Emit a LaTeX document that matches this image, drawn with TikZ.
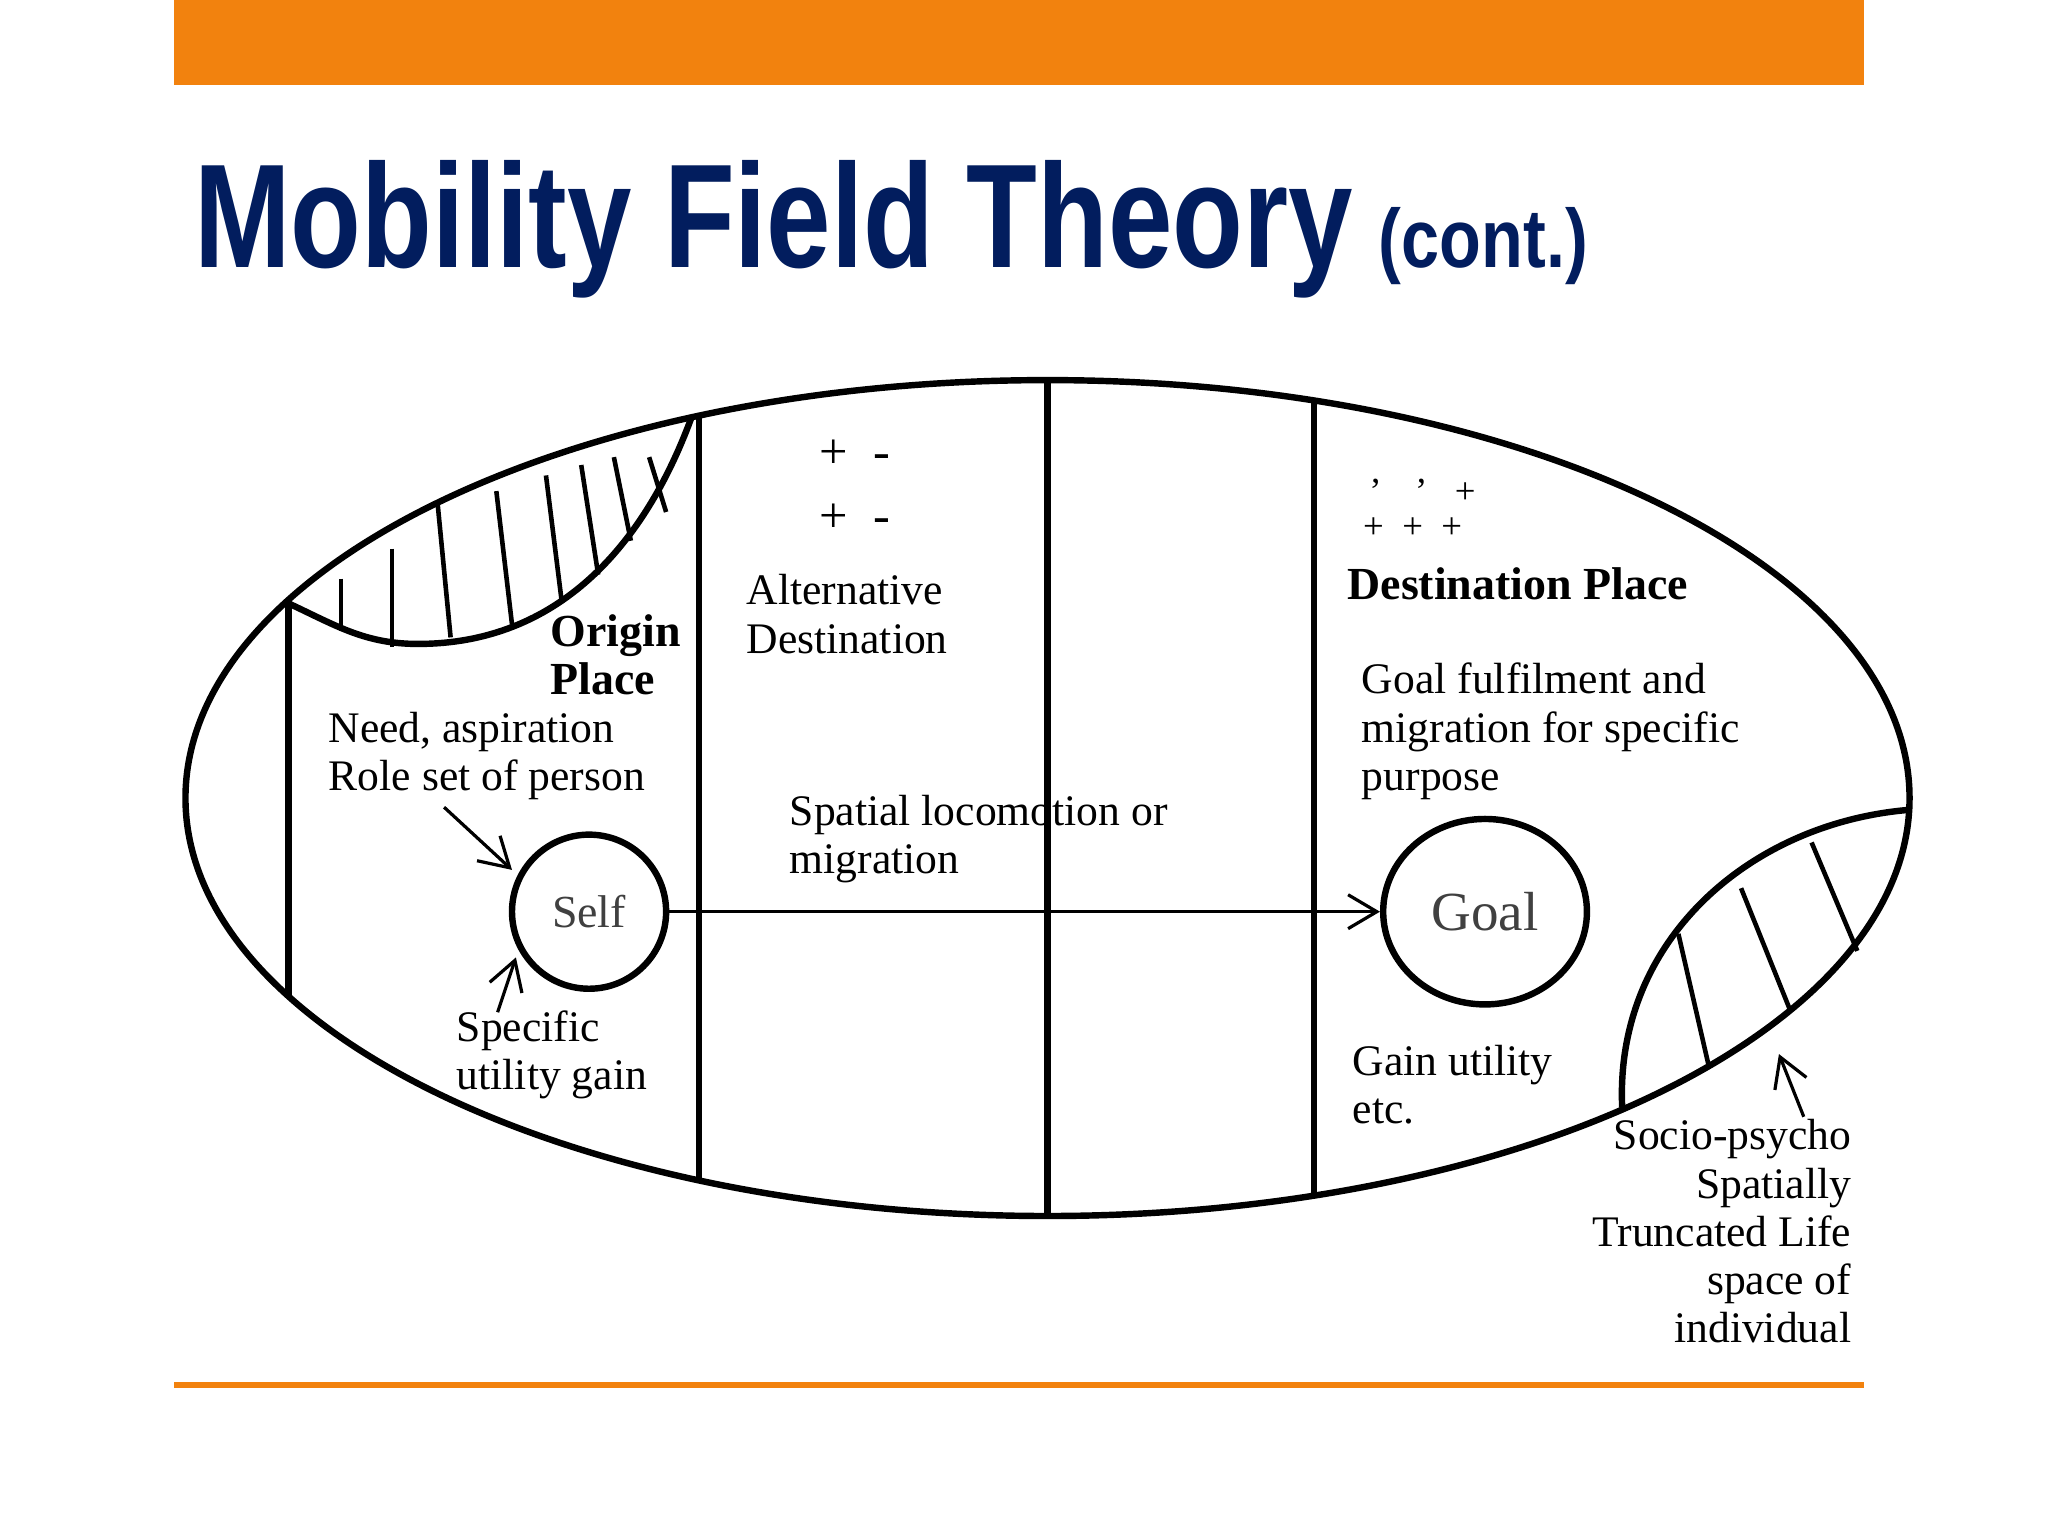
\documentclass[tikz,border=0pt]{standalone}
\usepackage{fontspec}
\setmainfont{Liberation Serif}
\newfontfamily\titlefont{Liberation Sans}
\usetikzlibrary{arrows.meta,shapes.geometric}
\definecolor{navy}{RGB}{2,29,94}
\definecolor{bar}{RGB}{242,130,14}
\begin{document}
\begin{tikzpicture}[x=0.1mm,y=-0.1mm,
  thick line/.style={line width=1.4pt},
  hatch/.style={line width=1pt},
  lbl/.style={anchor=base west,align=left,inner sep=0,font=\fontsize{9.5}{10.5}\selectfont},
  thin arrow/.style={line width=0.7pt,-{Straight Barb[length=2.2mm,width=2.6mm]}}]
\useasboundingbox[fill=white] (0,0) rectangle (1568,1176);
\fill[bar] (133,0) rectangle (1427,65);
\fill[bar] (133,1058) rectangle (1427,1063);
\node[anchor=base west,inner sep=0,text=navy] (title) at (148,205)
  {\resizebox{88.7mm}{8.2mm}{\titlefont\bfseries Mobility Field Theory}};
\node[anchor=base west,inner sep=0,text=navy] (cont) at (1055,205)
  {\resizebox{16mm}{4.6mm}{\titlefont\bfseries (cont.)}};
% ellipse
\coordinate (C) at (802,611);
\begin{scope}
\clip (C) ellipse [x radius=660, y radius=320];
\draw[thick line] (221,300) -- (221,950);
\draw[thick line] (535,250) -- (535,950);
\draw[thick line] (802,250) -- (802,950);
\draw[thick line] (1006,250) -- (1006,950);
\draw[thick line] (221,462) to[out=-25,in=180] (320,493) to[out=0,in=-110] (530,318);
\draw[thick line] (1242,848) .. controls (1236,720) and (1340,630) .. (1462,620);
\end{scope}
\draw[thick line] (C) ellipse [x radius=660, y radius=320];
% hatches top-left
\foreach \a/\b/\c/\d in {261/443/261/483, 300/420/300/495, 335/385/345/488, 380/376/392/478, 418/364/430/460, 445/356/458/440, 470/350/483/414, 497/350/510/392}
  \draw[hatch] (\a,\b) -- (\c,\d);
% hatches bottom-right
\foreach \a/\b/\c/\d in {1285/715/1308/815, 1333/680/1370/772, 1387/645/1422/728}
  \draw[hatch] (\a,\b) -- (\c,\d);
% circles
\node[draw,line width=1.4pt,circle,minimum size=11.8mm,inner sep=0,text=black!75,font=\fontsize{10}{10}\selectfont] (self) at (451,698) {Self};
\node[draw,line width=1.4pt,ellipse,minimum width=15.6mm,minimum height=14.2mm,inner sep=0,text=black!75,font=\fontsize{12}{12}\selectfont] (goal) at (1137,698) {Goal};
\draw[thin arrow] (self) -- (goal);
\coordinate (n1) at (340,618);
\draw[thin arrow] (n1) -- (392,666);
\coordinate (n2) at (381,775);
\draw[thin arrow] (n2) -- (395,733);
\coordinate (n3) at (1381,855);
\draw[thin arrow] (n3) -- (1362,807);
% labels
\node[lbl,font=\fontsize{10}{10.5}\selectfont\bfseries] (origin) at (421,532) {Origin\\Place};
\node[lbl] (need) at (251,605) {Need, aspiration\\Role set of person};
\node[lbl] (spec) at (349,834) {Specific\\utility gain};
\node[lbl,font=\fontsize{11}{14}\selectfont] (pm) at (627,408) {+ \ -\\+ \ -};
\node[lbl] (alt) at (571,500) {Alternative\\Destination};
\node[lbl] (spat) at (604,669) {Spatial locomotion or\\migration};
\node[lbl,font=\fontsize{8}{7.5}\selectfont] (pm2) at (1043,412) {\,' \ \ \,' \ \ +\\+ \ + \ +};
\node[lbl,font=\fontsize{10}{10.5}\selectfont\bfseries] (dest) at (1031,459) {Destination Place};
\node[lbl] (gf) at (1042,605) {Goal fulfilment and\\migration for specific\\purpose};
\node[lbl] (gu) at (1035,860) {Gain utility\\etc.};
\node[lbl,anchor=base east,align=right] (socio) at (1418,1028) {Socio-psycho\\Spatially\\Truncated Life\\space of\\individual};
\end{tikzpicture}
\end{document}
